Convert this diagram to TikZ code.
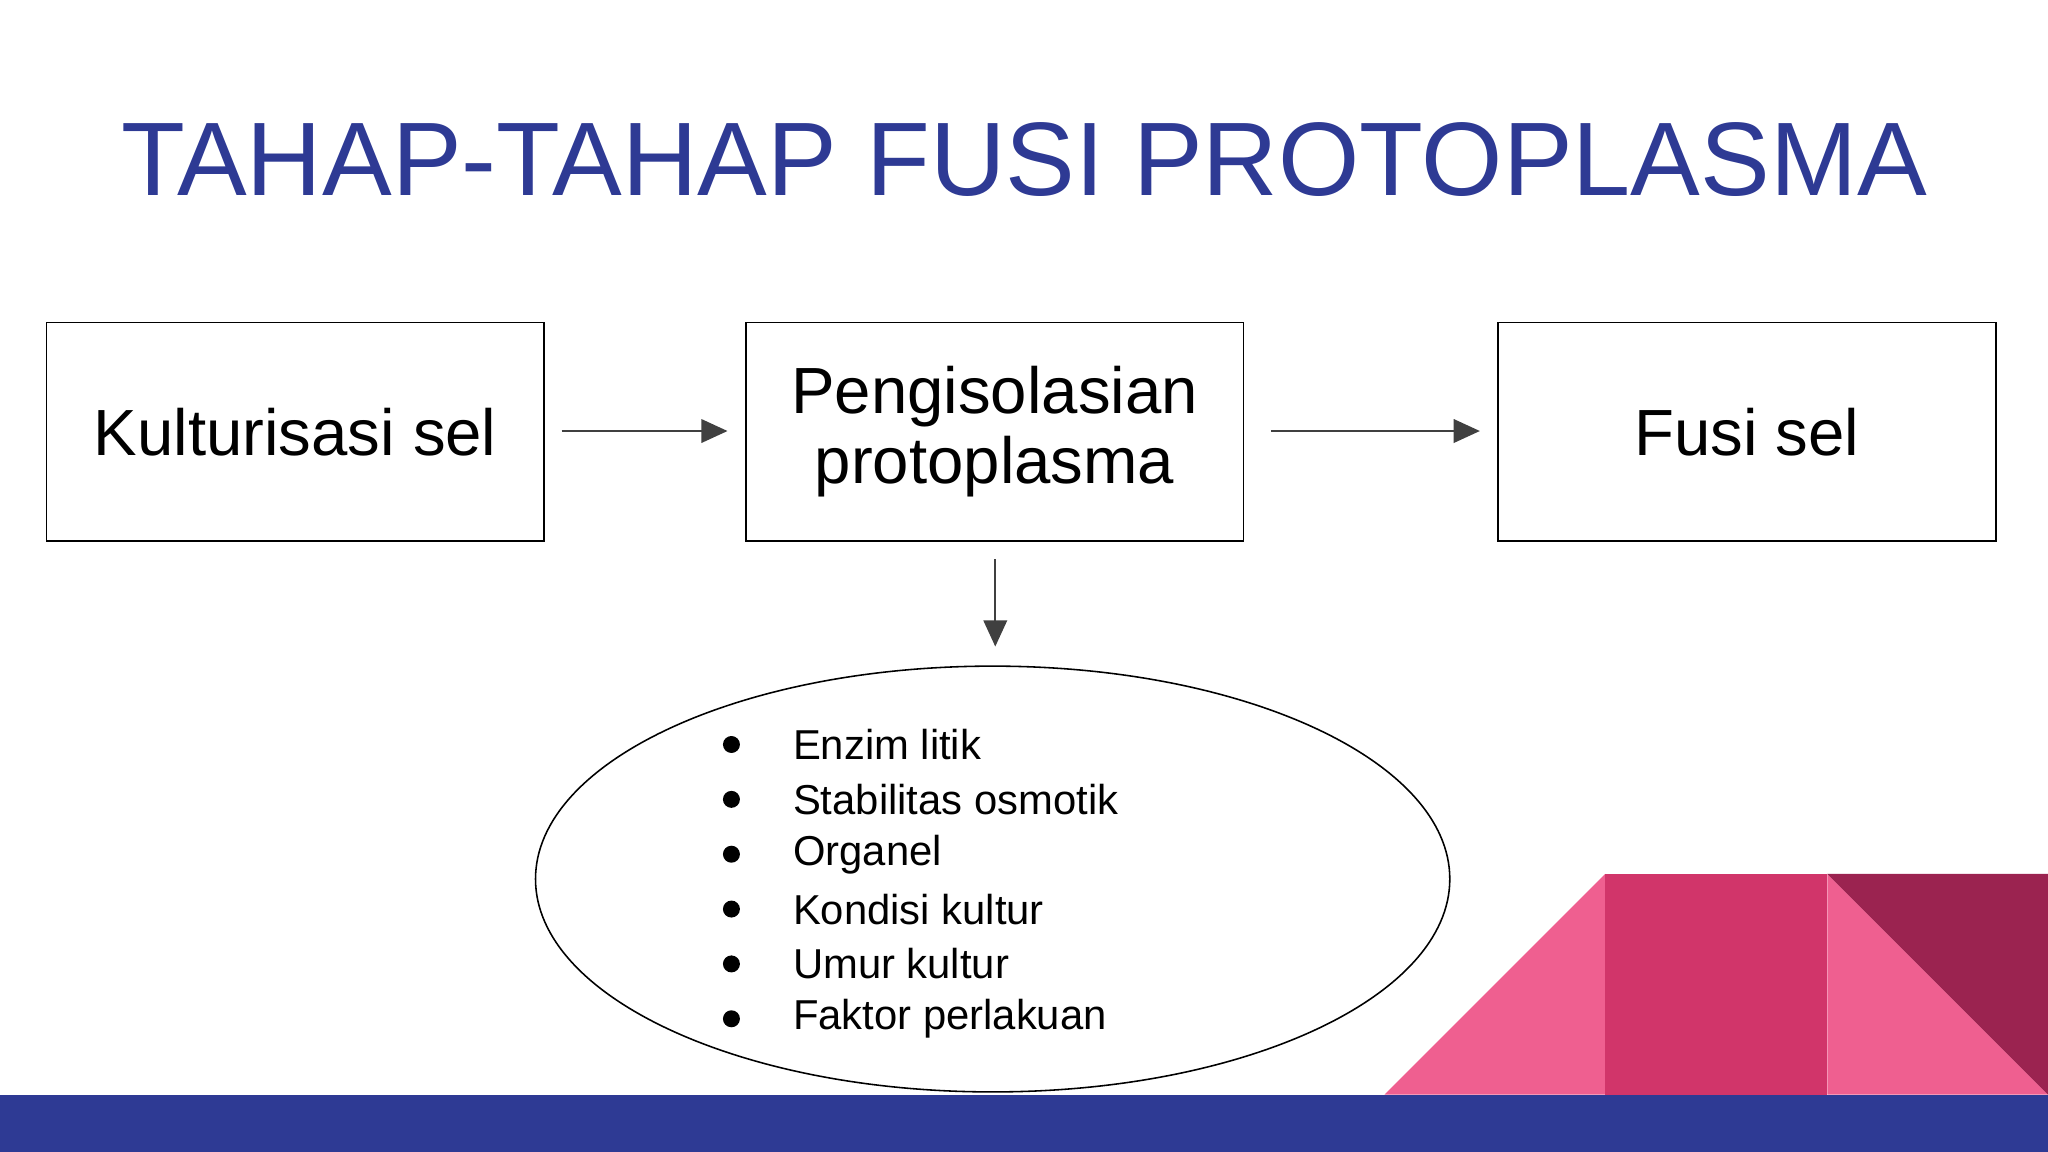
\documentclass[tikz,border=0pt]{standalone}
\usepackage{fontspec}
\setmainfont{Liberation Sans}
\usetikzlibrary{arrows.meta}
\definecolor{navy}{HTML}{2E3A94}
\definecolor{lpink}{HTML}{EF5F90}
\definecolor{mpink}{HTML}{D1356A}
\definecolor{maroon}{HTML}{9B2350}
\definecolor{arr}{HTML}{404040}
\tikzset{
 stepbox/.style={draw=black,line width=1.3pt,minimum width=381pt,minimum height=167pt,align=center,inner sep=0pt,font=\fontsize{50}{60}\selectfont},
 flow/.style={draw=arr,line width=1.5pt,-{Triangle[length=20pt,width=18pt]}},
 item/.style={anchor=west,inner sep=0pt,font=\fontsize{32}{38}\selectfont},
 dot/.style={circle,fill=black,inner sep=0pt,minimum size=13pt}
}
\begin{document}
\begin{tikzpicture}[x=1pt,y=-1pt]
\useasboundingbox (0,0) rectangle (1568,882);
\fill[white] (0,0) rectangle (1568,882);
\node[text=navy,font=\fontsize{80}{90}\selectfont,inner sep=0pt] (title) at (784,122) {TAHAP-TAHAP FUSI PROTOPLASMA};
\node[stepbox] (b1) at (226,330.5) {Kulturisasi sel};
\node[stepbox] (b2) at (761.5,330.5) {Pengisolasian\\[-6pt]protoplasma};
\node[stepbox] (b3) at (1337.5,330.5) {Fusi sel};
\coordinate (a1s) at (430,330); \coordinate (a1e) at (557,330);
\coordinate (a2s) at (973,330); \coordinate (a2e) at (1133,330);
\coordinate (a3s) at (762,428); \coordinate (a3e) at (762,495);
\draw[flow] (a1s) -- (a1e);
\draw[flow] (a2s) -- (a2e);
\draw[flow] (a3s) -- (a3e);
\draw[line width=1.2pt] (760,673) ellipse[x radius=350,y radius=163];
\foreach \t [count=\i] in {Enzim litik,Stabilitas osmotik,Organel,Kondisi kultur,Umur kultur,Faktor perlakuan}{
 \node[dot] (d\i) at (560,570+42*\i-42) {};
 \node[item] (t\i) at (607,570+42*\i-42) {\t};
}
\fill[lpink] (1060,838) -- (1229,669) -- (1229,838) -- cycle;
\fill[mpink] (1229,669) rectangle (1399,838);
\fill[lpink] (1399,669) -- (1568,838) -- (1399,838) -- cycle;
\fill[maroon] (1399,669) -- (1568,669) -- (1568,838) -- cycle;
\fill[navy] (0,838) rectangle (1568,882);
\end{tikzpicture}
\end{document}
